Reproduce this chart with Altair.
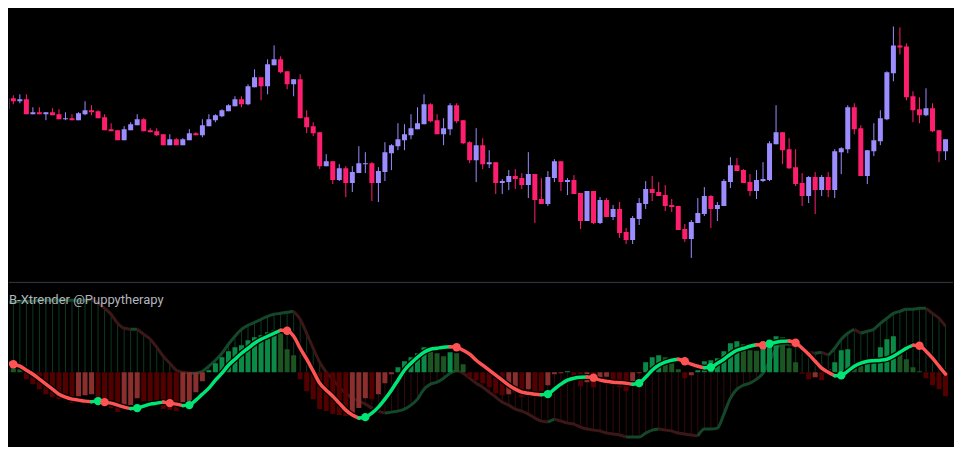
import altair as alt
import pandas as pd

# ---------------- price panel (candles) ----------------
OPEN = [191, 202, 199, 201, 186, 188, 186, 188, 186, 181,
        182, 180, 186, 190, 189, 183, 171, 170, 160, 170,
        175, 181, 170, 169, 166, 155, 161, 155, 160, 167,
        165, 174, 180, 184, 189, 194, 201, 196, 213, 223,
        214, 235, 241, 229, 216, 221, 183, 174, 168, 134,
        139, 120, 132, 117, 127, 136, 137, 117, 128, 147,
        154, 160, 165, 171, 176, 196, 180, 166, 171, 195,
        180, 158, 140, 155, 136, 138, 117, 118, 124, 122,
        115, 126, 101, 96, 122, 139, 118, 120, 107, 79,
        109, 77, 100, 83, 91, 68, 60, 81, 96, 111,
        108, 105, 95, 94, 71, 61, 77, 86, 104, 91,
        94, 118, 135, 130, 118, 109, 119, 120, 156, 168,
        151, 133, 117, 104, 123, 110, 123, 110, 148, 151,
        193, 172, 124, 149, 159, 181, 227, 255, 254, 204,
        191, 185, 192, 170, 149]
HIGH = [202, 205, 206, 206, 193, 193, 188, 192, 191, 188,
        186, 188, 199, 195, 190, 186, 177, 170, 174, 178,
        186, 182, 172, 172, 166, 166, 162, 162, 171, 168,
        181, 186, 186, 191, 196, 204, 204, 216, 231, 223,
        241, 255, 244, 229, 221, 226, 190, 178, 168, 146,
        139, 136, 134, 134, 154, 148, 138, 133, 158, 156,
        177, 176, 186, 193, 206, 197, 186, 182, 197, 197,
        180, 159, 172, 162, 150, 138, 121, 130, 131, 127,
        148, 126, 122, 129, 141, 139, 122, 125, 107, 109,
        109, 103, 102, 95, 98, 72, 84, 102, 119, 124,
        118, 115, 101, 94, 76, 80, 102, 113, 105, 98,
        121, 143, 142, 131, 126, 130, 138, 159, 195, 168,
        162, 151, 127, 124, 128, 125, 128, 151, 153, 195,
        197, 175, 150, 177, 190, 229, 274, 273, 257, 209,
        203, 212, 197, 170, 161]
LOW = [191, 196, 197, 186, 186, 186, 180, 185, 181, 180,
       180, 180, 185, 185, 182, 170, 169, 160, 160, 170,
       175, 169, 168, 164, 155, 155, 155, 155, 160, 165,
       163, 174, 178, 183, 189, 194, 193, 195, 213, 200,
       206, 235, 227, 211, 204, 182, 167, 164, 131, 134,
       116, 119, 103, 108, 127, 127, 99, 98, 119, 130,
       150, 150, 161, 171, 176, 178, 166, 155, 165, 177,
       156, 137, 118, 131, 132, 106, 106, 110, 111, 111,
       102, 77, 96, 94, 118, 109, 105, 106, 71, 79,
       76, 76, 83, 80, 62, 56, 56, 75, 91, 99,
       104, 89, 88, 70, 58, 42, 77, 84, 72, 79,
       94, 112, 129, 117, 104, 101, 118, 119, 156, 136,
       131, 114, 94, 97, 86, 104, 103, 102, 126, 147,
       166, 124, 116, 144, 155, 180, 219, 246, 200, 178,
       177, 184, 168, 138, 140]
CLOSE = [202, 199, 201, 186, 188, 186, 188, 185, 181, 182,
         180, 187, 190, 188, 182, 170, 169, 160, 171, 176,
         181, 169, 168, 165, 155, 161, 155, 161, 167, 165,
         175, 181, 185, 190, 195, 201, 196, 214, 223, 214,
         236, 241, 228, 216, 221, 182, 173, 167, 134, 139,
         120, 132, 117, 128, 137, 137, 117, 129, 148, 155,
         161, 166, 172, 177, 196, 179, 166, 172, 195, 179,
         157, 140, 155, 136, 138, 117, 119, 124, 121, 115,
         126, 100, 96, 123, 139, 118, 120, 106, 79, 109,
         77, 100, 83, 91, 67, 60, 82, 97, 111, 107,
         104, 94, 93, 70, 61, 78, 87, 104, 91, 95,
         119, 135, 129, 117, 109, 120, 121, 157, 168, 150,
         132, 116, 104, 123, 110, 123, 110, 149, 152, 193,
         171, 124, 150, 160, 182, 228, 255, 253, 203, 190,
         185, 192, 169, 149, 161]

# ---------------- oscillator panel ----------------
HIST = [5, 4, 3, -7, -12, -17, -22, -25, -27, -28,
        -31, -24, -23, -22, -27, -32, -36, -40, -38, -33,
        -26, -29, -31, -34, -37, -38, -39, -30, -29, -20,
        -9, 2, 9, 15, 21, 25, 27, 32, 35, 37,
        40, 42, 39, 23, 17, -7, -19, -27, -37, -39,
        -42, -43, -44, -42, -36, -26, -27, -22, -11, -2,
        5, 11, 15, 19, 25, 24, 19, 16, 20, 19,
        8, -5, -8, -11, -15, -21, -23, -22, -20, -25,
        -17, -21, -25, -13, -2, -1, 1, -4, -14, -10,
        -15, -5, -4.5, -7, -15, -19, -10, -1, 10, 15,
        17, 15, 9, 3, -6, -3, 2, 11, 12, 14,
        21, 29, 31, 28, 22, 21.5, 26, 32, 36, 35,
        24, 10, -1.5, -7, -5, -8, 3, 10, 22, 23,
        7, 6.5, 9, 9.5, 25, 33, 36, 21, 13, 5,
        1, -6, -13, -17, -24]
LONG = [70, 70, 71, 71, 71, 72, 72, 72, 72, 72,
        72, 72, 72, 73, 69, 64, 58, 49, 44, 43,
        43, 38, 33, 25, 16, 9, 2, 0, -1, -1,
        1, 6, 12, 19, 28, 36, 43, 47, 50, 53,
        56, 58, 59, 60, 61, 53, 39, 24, 10, 0,
        -7, -15, -21, -26, -29, -32, -36, -39, -41, -40,
        -39, -37, -33, -27, -17, -12, -10, -6, -1, 2,
        -1, -6, -11, -15, -20, -25, -30, -33, -37, -39,
        -42, -46, -49, -50, -47, -49, -51, -52, -55, -57,
        -58, -59, -61, -62, -63, -65, -65, -65, -61, -58,
        -57, -58, -59, -61, -62, -63, -64, -57, -57, -56,
        -42, -26, -17, -13, -11, -7, -1, 11, 23, 28,
        28, 26, 23, 20, 19, 20, 17, 24, 33, 39,
        43, 39, 41, 43, 49, 54, 59, 61, 63, 63,
        64, 64, 59, 54, 46]
T3 = [9, 8, 6, 2, -2, -7, -12, -17, -22, -25,
      -27, -28, -29, -29.5, -29, -30, -31, -33, -35, -36.5,
      -36, -34, -32, -31, -30, -31, -32, -33.5, -33, -28,
      -22, -16, -8, -1, 7, 13, 19, 24, 29, 33,
      36, 39, 42, 41.5, 36, 24, 13, 1, -11, -18,
      -24, -31, -38, -43, -46, -45, -41, -35, -27, -18,
      -8, 2, 9, 15, 20, 23, 24, 25, 25.5, 25,
      22, 18, 12, 7, 2, -3, -8, -13, -17, -20,
      -21, -22, -22.5, -22, -17, -12, -8, -6, -5, -4.8,
      -5.5, -8, -9, -10, -10.5, -11, -12, -11, -5, 2,
      7, 10, 12, 13, 11, 8, 6, 4.5, 5, 9,
      13, 18, 22, 24, 26, 27.5, 27, 28.5, 30, 31,
      31.3, 29.5, 24, 18, 11, 4, 0, -3.6, -3.2, 1,
      6, 9, 11, 11.5, 12, 13, 16, 20, 24, 27,
      26.5, 21, 14, 6, -2]
DOT_IDX = [1, 14, 15, 20, 25, 28, 43, 55, 69, 83, 90, 97, 104, 108, 116, 117, 121, 128, 140]
DOT_DIR = ["down", "up", "down", "up", "down", "up", "down", "up", "down", "up",
           "down", "up", "down", "up", "down", "up", "down", "up", "down"]
LABEL = "B-Xtrender @Puppytherapy"

# ---------------- styles ----------------
UP_CANDLE, DN_CANDLE = "#9b8cff", "#ff1e6e"
T3_UP, T3_DN = "#00e676", "#ff5252"
POS_UP, POS_DN, NEG_UP, NEG_DN = "#0a8a46", "#1a5522", "#8a2e2e", "#520000"
THIN_POS, THIN_NEG = "#0c3a1e", "#360a0a"
ENV_UP, ENV_DN = "#14462a", "#3c1717"

n = len(OPEN)
idx = list(range(n))
XDOM = [1.1011, 144.378]

# ---------------- top panel ----------------
candles = pd.DataFrame({"k": idx, "open": OPEN, "high": HIGH, "low": LOW, "close": CLOSE})
candles["col"] = [UP_CANDLE if c >= o else DN_CANDLE for o, c in zip(OPEN, CLOSE)]

xs_top = alt.Scale(domain=XDOM, nice=False, zero=False)
ys_top = alt.Scale(domain=[18, 292], nice=False, zero=False)

wicks = alt.Chart(candles).mark_rule(strokeWidth=1, clip=True).encode(
    x=alt.X("k:Q", scale=xs_top, axis=None),
    y=alt.Y("low:Q", scale=ys_top, axis=None),
    y2="high:Q",
    color=alt.Color("col:N", scale=None),
)
bodies = alt.Chart(candles).mark_bar(width=5, clip=True).encode(
    x=alt.X("k:Q", scale=xs_top, axis=None),
    y=alt.Y("open:Q", scale=ys_top, axis=None),
    y2="close:Q",
    color=alt.Color("col:N", scale=None),
)
top = alt.layer(wicks, bodies).properties(width=946, height=274)


# ---------------- bottom panel ----------------
def runs(values, colors):
    rows = []
    seg = 0
    for i in range(1, len(values)):
        if i > 1 and colors[i] != colors[i - 1]:
            seg += 1
        if i == 1 or colors[i] != colors[i - 1]:
            rows.append({"k": i - 1, "v": values[i - 1], "seg": seg, "c": colors[i]})
        rows.append({"k": i, "v": values[i], "seg": seg, "c": colors[i]})
    return pd.DataFrame(rows)


def hcol(v, p):
    if v >= 0:
        return POS_UP if v > p else POS_DN
    return NEG_UP if v > p else NEG_DN


prev = [HIST[0]] + HIST[:-1]
osc = pd.DataFrame({"k": idx, "hist": HIST, "long": LONG, "zero": [0] * n})
osc["hcol"] = [hcol(v, p) for v, p in zip(HIST, prev)]
osc["lcol"] = [THIN_POS if v >= 0 else THIN_NEG for v in LONG]

env_cols = [ENV_UP] + [ENV_UP if LONG[i] >= LONG[i - 1] else ENV_DN for i in range(1, n)]
env_df = runs(LONG, env_cols)

dot_map = dict(zip(DOT_IDX, DOT_DIR))
cur = "down"
t3_cols = []
for i in range(n):
    if i in dot_map:
        cur = dot_map[i]
    t3_cols.append(T3_UP if cur == "up" else T3_DN)
t3_df = runs(T3, t3_cols)
t3_full = pd.DataFrame({"k": idx, "v": T3})
dots = pd.DataFrame({"k": DOT_IDX, "v": [T3[i] for i in DOT_IDX],
                     "c": [T3_UP if d == "up" else T3_DN for d in DOT_DIR]})

xs_b = alt.Scale(domain=XDOM, nice=False, zero=False)
ys_b = alt.Scale(domain=[-74.5, 90.5], nice=False, zero=False)
X = alt.X("k:Q", scale=xs_b, axis=None)

thin = alt.Chart(osc).mark_rule(strokeWidth=1, clip=True).encode(
    x=X, y=alt.Y("zero:Q", scale=ys_b, axis=None), y2="long:Q",
    color=alt.Color("lcol:N", scale=None))
env = alt.Chart(env_df).mark_line(strokeWidth=3, clip=True, interpolate="monotone").encode(
    x=X, y=alt.Y("v:Q", scale=ys_b, axis=None), detail="seg:N",
    color=alt.Color("c:N", scale=None), order="k:Q")
bars = alt.Chart(osc).mark_bar(width=5, clip=True).encode(
    x=X, y=alt.Y("zero:Q", scale=ys_b, axis=None), y2="hist:Q",
    color=alt.Color("hcol:N", scale=None))
shadow = alt.Chart(t3_full).mark_line(strokeWidth=6, color="#000000", clip=True,
                                      interpolate="monotone").encode(
    x=X, y=alt.Y("v:Q", scale=ys_b, axis=None), order="k:Q")
t3line = alt.Chart(t3_df).mark_line(strokeWidth=3.5, clip=True, interpolate="monotone",
                                    strokeCap="round").encode(
    x=X, y=alt.Y("v:Q", scale=ys_b, axis=None), detail="seg:N",
    color=alt.Color("c:N", scale=None), order="k:Q")
dot_layer = alt.Chart(dots).mark_circle(size=70, opacity=1, clip=True).encode(
    x=X, y=alt.Y("v:Q", scale=ys_b, axis=None), color=alt.Color("c:N", scale=None))
label = alt.Chart(pd.DataFrame({"t": [LABEL]})).mark_text(
    align="left", baseline="alphabetic", font="Roboto", fontSize=13, color="#b2b5be").encode(
    x=alt.value(0), y=alt.value(22), text="t:N")
sep = alt.Chart(pd.DataFrame({"a": [0]})).mark_rule(color="#363a45", strokeWidth=1).encode(
    y=alt.value(0.5))

bottom = alt.layer(thin, env, bars, shadow, t3line, dot_layer, label, sep).properties(
    width=946, height=165)

chart = alt.vconcat(top, bottom, spacing=0).properties(
    padding=0, background="#000000"
).configure_view(strokeWidth=0, fill="#000000").configure_concat(spacing=0)

chart.save("out.html", embed_options={"renderer": "svg", "actions": False})
